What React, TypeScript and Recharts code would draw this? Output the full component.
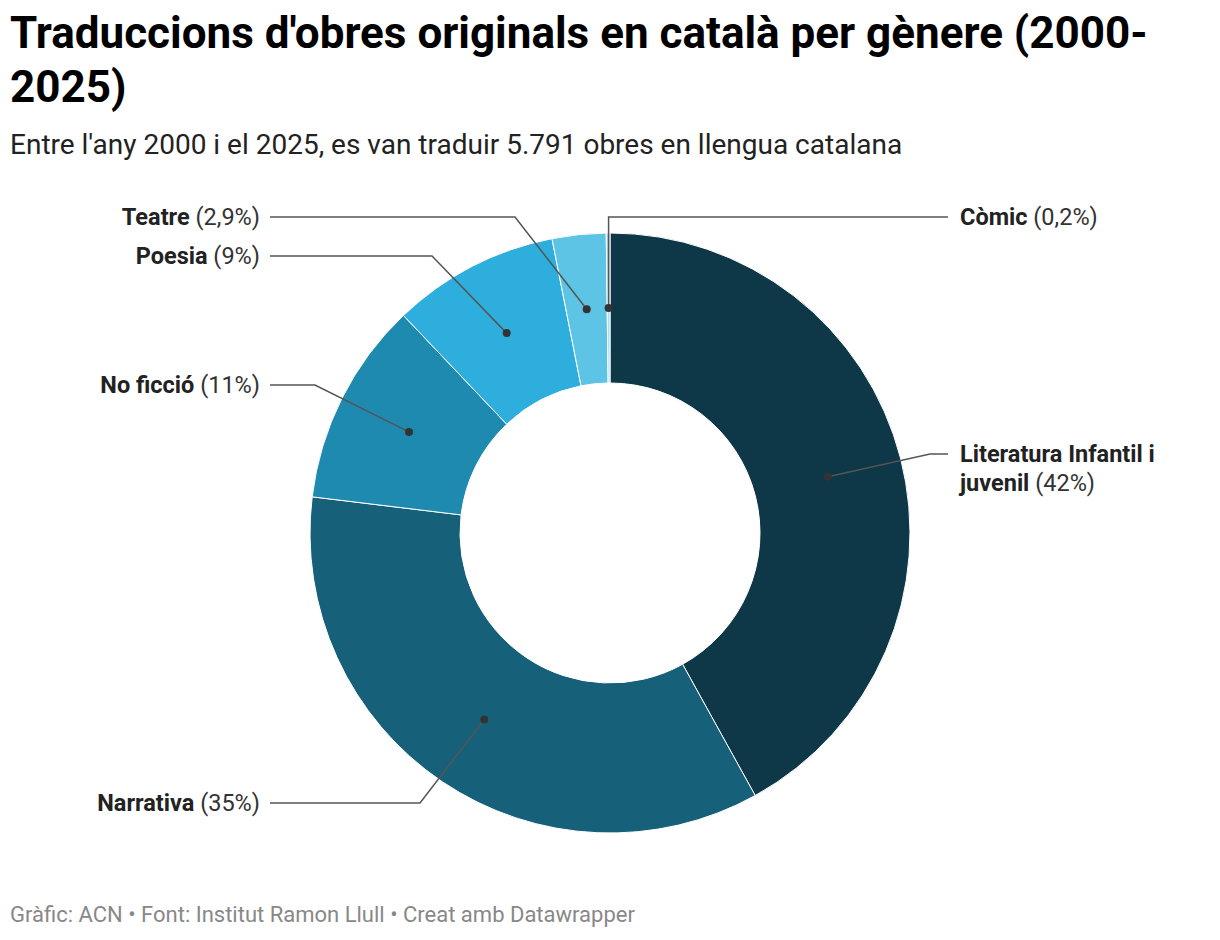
import { PieChart, Pie, Cell } from 'recharts'

const genres = ['Literatura Infantil i juvenil', 'Narrativa', 'No ficció', 'Poesia', 'Teatre', 'Còmic']
const shares = [42, 35, 11, 9, 2.9, 0.2]
const colors = ['#0e3748', '#16607a', '#1e8aaf', '#2eaedc', '#5ec4e5', '#a9dcf0']

// label placement: side, label y, elbow point (null x = straight up from the dot)
const labelLayout = [
  { side: 'right', y: 454, ex: 930, ey: 454, lines: ['Literatura Infantil i', 'juvenil'] },
  { side: 'left', y: 803, ex: 420, ey: 803, lines: ['Narrativa'] },
  { side: 'left', y: 385, ex: 315, ey: 385, lines: ['No ficció'] },
  { side: 'left', y: 256, ex: 432, ey: 256, lines: ['Poesia'] },
  { side: 'left', y: 217, ex: 515, ey: 217, lines: ['Teatre'] },
  { side: 'right', y: 217, ex: null, ey: 217, lines: ['Còmic'] },
]

const data = genres.map((g, i) => ({ name: g, value: shares[i] }))
const fmtPct = (v: number) => String(v).replace('.', ',') + '%'
const RAD = Math.PI / 180

const renderLabel = (p: any) => {
  const { cx, cy, midAngle, innerRadius, outerRadius, index } = p
  const r = (innerRadius + outerRadius) / 2
  const dx = cx + r * Math.cos(-midAngle * RAD)
  const dy = cy + r * Math.sin(-midAngle * RAD)
  const L = labelLayout[index]
  const ex = L.ex == null ? dx : L.ex
  const endX = L.side === 'left' ? 270 : 948
  const tx = L.side === 'left' ? 260 : 960
  const anchor = L.side === 'left' ? 'end' : 'start'
  const last = L.lines.length - 1
  return (
    <g key={'lbl' + index}>
      <polyline points={`${dx},${dy} ${ex},${L.ey} ${endX},${L.ey}`} fill="none" stroke="#555" strokeWidth={1.5} />
      <circle cx={dx} cy={dy} r={4} fill="#333" />
      <text x={tx} y={L.y} textAnchor={anchor} dominantBaseline="central"
        style={{ fontFamily: 'Roboto', fontSize: 23.5, fill: '#222' }}>
        {L.lines.map((ln, k) => (
          <tspan key={k} x={tx} dy={k === 0 ? 0 : 29}>
            <tspan fontWeight={700}>{ln}</tspan>
            {k === last ? <tspan fontWeight={400} fill="#333"> ({fmtPct(shares[index])})</tspan> : null}
          </tspan>
        ))}
      </text>
    </g>
  )
}

export default function App() {
  return (
    <div style={{ position: 'absolute', top: 0, left: 0, width: 1220, height: 940, background: '#fff', fontFamily: 'Roboto' }}>
      <div style={{ position: 'absolute', left: 10, top: 6, width: 1190, fontSize: 44, fontWeight: 700, lineHeight: '54px', color: '#000' }}>
        Traduccions d'obres originals en català per gènere (2000-2025)
      </div>
      <div style={{ position: 'absolute', left: 10, top: 128, fontSize: 28, color: '#222' }}>
        Entre l'any 2000 i el 2025, es van traduir 5.791 obres en llengua catalana
      </div>
      <div style={{ position: 'absolute', top: 0, left: 0 }}>
        <PieChart width={1220} height={940} margin={{ top: 0, right: 0, bottom: 0, left: 0 }}>
          <Pie data={data} dataKey="value" nameKey="name" cx={610} cy={533}
            innerRadius={150} outerRadius={300} startAngle={90} endAngle={-270}
            stroke="#fff" strokeWidth={1} label={renderLabel} labelLine={false}
            isAnimationActive={false}>
            {data.map((d, i) => <Cell key={d.name} fill={colors[i]} />)}
          </Pie>
        </PieChart>
      </div>
      <div style={{ position: 'absolute', left: 10, top: 902, fontSize: 22, color: '#888' }}>
        Gràfic: ACN • Font: Institut Ramon Llull • Creat amb Datawrapper
      </div>
    </div>
  )
}
